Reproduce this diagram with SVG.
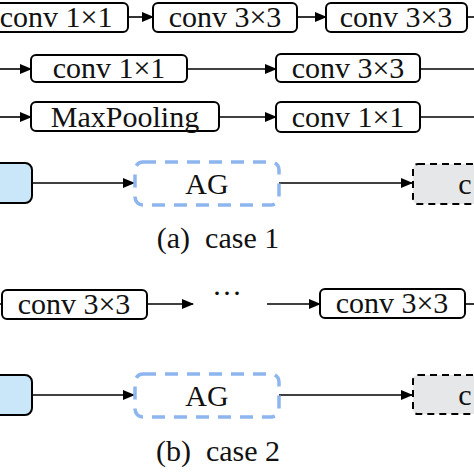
<svg xmlns="http://www.w3.org/2000/svg" width="474" height="474" viewBox="0 0 474 474">
<defs>
<marker id="ah" markerWidth="12" markerHeight="10" refX="11" refY="5" orient="auto" markerUnits="userSpaceOnUse">
<path d="M0,0 L12,5 L0,10 Z" fill="#000"/>
</marker>
<style>
.box{fill:#fff;stroke:#000;stroke-width:2}
.blue{fill:#c9e7f8;stroke:#000;stroke-width:2}
.ag{fill:#fff;stroke:#8db5ee;stroke-width:3.5;stroke-dasharray:13 9}
.grey{fill:#e6e7e8;stroke:#000;stroke-width:2;stroke-dasharray:7 5}
.t{font-family:"Liberation Serif","Times New Roman",serif;font-size:30px;fill:#111;text-anchor:middle}
.c{fill:none;stroke:#000;stroke-width:1.6}
</style>
</defs>
<rect width="474" height="474" fill="#fff"/>
<g id="connectors">
<line class="c" x1="128" y1="17" x2="153" y2="17" marker-end="url(#ah)"/>
<line class="c" x1="297" y1="17" x2="326" y2="17" marker-end="url(#ah)"/>
<line class="c" x1="467" y1="17" x2="474" y2="17"/>
<line class="c" x1="0" y1="69" x2="31" y2="69" marker-end="url(#ah)"/>
<line class="c" x1="187" y1="69" x2="276" y2="69" marker-end="url(#ah)"/>
<line class="c" x1="420" y1="69" x2="474" y2="69"/>
<line class="c" x1="0" y1="117" x2="31" y2="117" marker-end="url(#ah)"/>
<line class="c" x1="219" y1="117" x2="276" y2="117" marker-end="url(#ah)"/>
<line class="c" x1="420" y1="117" x2="474" y2="117"/>
<line class="c" x1="32" y1="183" x2="134" y2="183" marker-end="url(#ah)"/>
<line class="c" x1="279" y1="183" x2="412" y2="183" marker-end="url(#ah)"/>
<line class="c" x1="0" y1="304" x2="2" y2="304"/>
<line class="c" x1="147" y1="304" x2="193" y2="304" marker-end="url(#ah)"/>
<line class="c" x1="267" y1="304" x2="320" y2="304" marker-end="url(#ah)"/>
<line class="c" x1="465" y1="304" x2="474" y2="304"/>
<line class="c" x1="32" y1="395" x2="134" y2="395" marker-end="url(#ah)"/>
<line class="c" x1="279" y1="395" x2="412" y2="395" marker-end="url(#ah)"/>
</g>
<g id="a-conv1x1-top"><rect class="box" x="-20" y="3" width="148" height="29" rx="5"/><text class="t" x="56" y="27">conv 1×1</text></g>
<g id="a-conv3x3-1"><rect class="box" x="153" y="3" width="144" height="29" rx="5"/><text class="t" x="225" y="27">conv 3×3</text></g>
<g id="a-conv3x3-2"><rect class="box" x="326" y="3" width="141" height="29" rx="5"/><text class="t" x="396" y="27">conv 3×3</text></g>
<g id="a-conv1x1-mid"><rect class="box" x="31" y="55" width="156" height="27" rx="5"/><text class="t" x="109" y="78">conv 1×1</text></g>
<g id="a-conv3x3-mid"><rect class="box" x="276" y="54" width="144" height="28" rx="5"/><text class="t" x="348" y="78">conv 3×3</text></g>
<g id="a-maxpool"><rect class="box" x="31" y="102" width="188" height="29" rx="5"/><text class="t" x="125" y="127">MaxPooling</text></g>
<g id="a-conv1x1-low"><rect class="box" x="276" y="102" width="144" height="30" rx="5"/><text class="t" x="348" y="127">conv 1×1</text></g>
<g id="a-input"><rect class="blue" x="-20" y="163" width="52" height="40" rx="7"/></g>
<g id="a-ag"><rect class="ag" x="135" y="162" width="144" height="43" rx="8"/><text class="t" x="207" y="194">AG</text></g>
<g id="a-out"><rect class="grey" x="413" y="164" width="80" height="40" rx="5"/><text class="t" x="465" y="194">c</text></g>
<text class="t" x="218" y="248" xml:space="preserve">(a)  case 1</text>
<g id="b-conv3x3-1"><rect class="box" x="2" y="290" width="145" height="29" rx="5"/><text class="t" x="74" y="314">conv 3×3</text></g>
<g id="b-dots"><text class="t" x="227" y="303">···</text></g>
<g id="b-conv3x3-2"><rect class="box" x="320" y="289" width="145" height="29" rx="5"/><text class="t" x="392" y="313">conv 3×3</text></g>
<g id="b-input"><rect class="blue" x="-20" y="375" width="52" height="40" rx="7"/></g>
<g id="b-ag"><rect class="ag" x="135" y="374" width="144" height="43" rx="8"/><text class="t" x="207" y="406">AG</text></g>
<g id="b-out"><rect class="grey" x="413" y="375" width="80" height="39" rx="5"/><text class="t" x="465" y="405">c</text></g>
<text class="t" x="218" y="461" xml:space="preserve">(b)  case 2</text>
</svg>
